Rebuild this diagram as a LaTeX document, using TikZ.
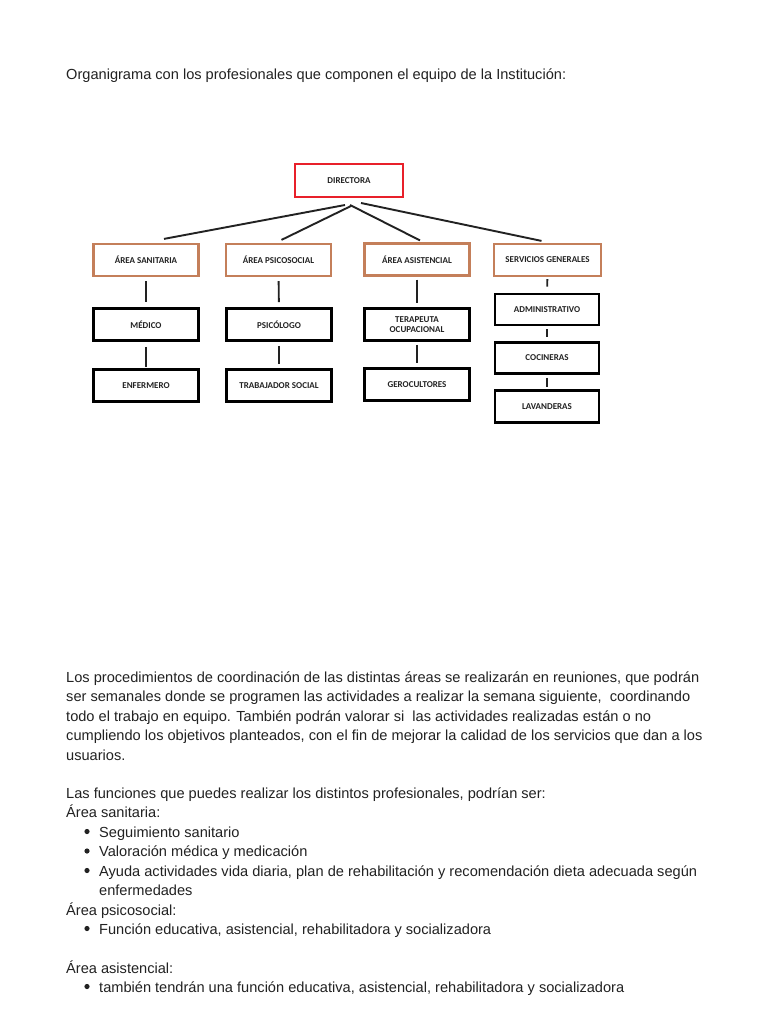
\documentclass[tikz,border=0pt]{standalone}
\usepackage{fontspec}
\setmainfont{Liberation Sans}
\newfontfamily\orgfont{Carlito}
\usepackage{xcolor}
\usepackage{tikz}
\definecolor{orgred}{HTML}{E8202A}
\definecolor{orgbrown}{HTML}{C47F5A}
\definecolor{orgtext}{HTML}{222222}

\tikzset{
  orgbox/.style={draw=black,line width=2.6pt,minimum width=105pt,minimum height=32pt,
    inner sep=1pt,align=center,text=orgtext,
    font=\orgfont\bfseries\fontsize{9}{10}\selectfont},
  areabox/.style={orgbox,draw=orgbrown,line width=2.2pt},
  topbox/.style={orgbox,draw=orgred,line width=2pt,minimum width=108pt,minimum height=33pt},
  link/.style={draw=orgtext,line width=1.9pt},
  bodyline/.style={anchor=base west,inner sep=0pt,text=orgtext,
    font=\fontsize{14.6}{17}\selectfont},
}

\begin{document}
\begin{tikzpicture}[x=1pt,y=-1pt]
  \useasboundingbox (0,0) rectangle (768,1024);
  \fill[white] (0,0) rectangle (768,1024);

  \node[bodyline] (titulo) at (66,80) {Organigrama con los profesionales que componen el equipo de la Institución:};

  \node[topbox] (dir) at (349,180.5) {DIRECTORA};

  \node[areabox] (san) at (146,260) {ÁREA SANITARIA};
  \node[areabox] (psi) at (278.5,260) {ÁREA PSICOSOCIAL};
  \node[areabox] (asi) at (417,259.5) {ÁREA ASISTENCIAL};
  \node[areabox,minimum width=107pt] (ser) at (547.5,260) {SERVICIOS GENERALES};

  \node[orgbox] (med) at (146,324.5) {MÉDICO};
  \node[orgbox] (psc) at (279,324.5) {PSICÓLOGO};
  \node[orgbox] (ter) at (417,324.5) {TERAPEUTA\\OCUPACIONAL};
  \node[orgbox,minimum width=104pt,minimum height=31pt] (adm) at (547,309.5) {ADMINISTRATIVO};

  \node[orgbox] (enf) at (146,385.5) {ENFERMERO};
  \node[orgbox] (tra) at (279,385.5) {TRABAJADOR SOCIAL};
  \node[orgbox] (ger) at (417,384.5) {GEROCULTORES};
  \node[orgbox,minimum width=104pt,minimum height=31pt] (coc) at (547,358) {COCINERAS};
  \node[orgbox,minimum width=104pt] (lav) at (547,406.5) {LAVANDERAS};

  \draw[link] ([xshift=-4pt,yshift=-7pt]dir.south) -- ([xshift=18pt,yshift=4pt]san.north);
  \draw[link] ([xshift=2pt,yshift=-8pt]dir.south) -- ([xshift=3pt,yshift=3pt]psi.north);
  \draw[link] ([xshift=1pt,yshift=-7pt]dir.south) -- ([xshift=3pt,yshift=2pt]asi.north);
  \draw[link] ([xshift=12pt,yshift=-5pt]dir.south) -- ([xshift=-6pt,yshift=2pt]ser.north);

  \draw[link,shorten <=4pt,shorten >=5pt] (san) -- (med);
  \draw[link,shorten <=4pt,shorten >=5pt] (psi) -- (psc);
  \draw[link,shorten <=3pt,shorten >=4pt] (asi) -- (ter);
  \draw[link,shorten <=2pt,shorten >=6pt] (ser) -- (adm);

  \draw[link,shorten <=5pt,shorten >=1pt] (med) -- (enf);
  \draw[link,shorten <=4pt,shorten >=4pt] (psc) -- (tra);
  \draw[link,shorten <=3pt,shorten >=4pt] (ter) -- (ger);
  \draw[link,shorten <=3pt,shorten >=4pt] (adm) -- (coc);
  \draw[link,shorten <=3pt,shorten >=2pt] (coc) -- (lav);

  \node[bodyline] (p1) at (66,682) {Los procedimientos de coordinación de las distintas áreas se realizarán en reuniones, que podrán};
  \node[bodyline] (p2) at (66,701.5) {ser semanales donde se programen las actividades a realizar la semana siguiente, \ coordinando};
  \node[bodyline] (p3) at (66,721) {todo el trabajo en equipo. También podrán valorar si \ las actividades realizadas están o no};
  \node[bodyline] (p4) at (66,740.5) {cumpliendo los objetivos planteados, con el fin de mejorar la calidad de los servicios que dan a los};
  \node[bodyline] (p5) at (66,760) {usuarios.};

  \node[bodyline] (f1) at (66,798) {Las funciones que puedes realizar los distintos profesionales, podrían ser:};
  \node[bodyline] (f2) at (66,817.5) {Área sanitaria:};
  \node[bodyline] (f3) at (99,837) {Seguimiento sanitario};
  \node[bodyline] (f4) at (99,856.5) {Valoración médica y medicación};
  \node[bodyline] (f5) at (99,876) {Ayuda actividades vida diaria, plan de rehabilitación y recomendación dieta adecuada según};
  \node[bodyline] (f6) at (99,895.5) {enfermedades};
  \node[bodyline] (f7) at (66,915) {Área psicosocial:};
  \node[bodyline] (f8) at (99,934) {Función educativa, asistencial, rehabilitadora y socializadora};
  \node[bodyline] (f9) at (66,973) {Área asistencial:};
  \node[bodyline] (f10) at (99,992) {también tendrán una función educativa, asistencial, rehabilitadora y socializadora};

  \foreach \yb in {831.5,851,870.5,928.5,986.5}
    \fill[orgtext] (87,\yb) circle[radius=2.6pt];
\end{tikzpicture}
\end{document}
